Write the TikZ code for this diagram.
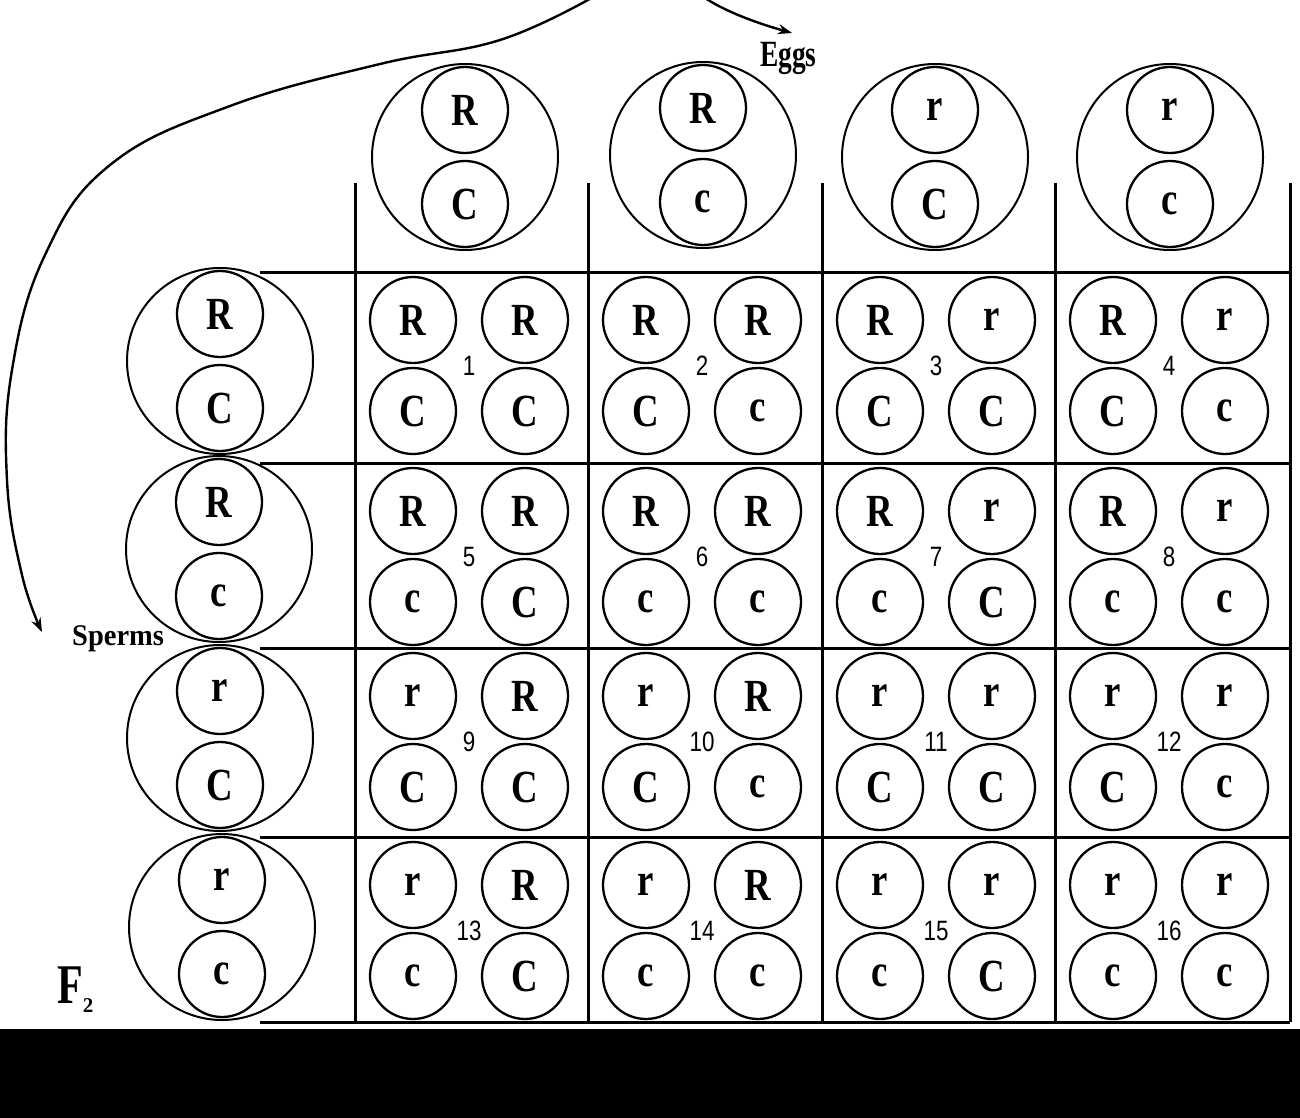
\documentclass[tikz,border=0pt]{standalone}
\usepackage{fontspec}
\setmainfont{Liberation Serif}
\setsansfont{Liberation Sans}
\usetikzlibrary{calc,arrows.meta}
\tikzstyle{gamete}=[circle,draw,line width=2pt,minimum size=186pt,inner sep=0pt]
\tikzstyle{gene}=[circle,draw,line width=2.3pt,minimum size=86pt,inner sep=0pt,font=\fontsize{46}{50}\selectfont\bfseries]
\tikzstyle{gridline}=[line width=3pt]
\tikzstyle{pathway}=[line width=2.4pt,-{Stealth[length=14pt,width=10pt]}]
\tikzstyle{cellnumber}=[inner sep=0pt,font=\fontsize{28}{28}\selectfont\sffamily]
\tikzstyle{heading}=[inner sep=0pt,anchor=base west,font=\fontsize{37}{37}\selectfont\bfseries]
\newcommand{\allele}[1]{\scalebox{0.8}[1]{#1}}
\newcommand{\drawgamete}[4]{% Syntax: {name}{centre}{upper allele}{lower allele}
\node[gamete] (#1) at (#2) {};
\node[gene] (#1u) at ($(#2)+(0,-47)$) {\allele{#3}};
\node[gene] (#1l) at ($(#2)+(0,47)$) {\allele{#4}};
}

\begin{document}
\begin{tikzpicture}[x=1pt,y=-1pt]
	\useasboundingbox (0,0) rectangle (1300,1118);
	\fill[white] (0,0) rectangle (1300,1029);
	\fill[black] (0,1029) rectangle (1300,1118);
	% the table
	\foreach \x in {355,588,822,1055,1290} \draw[gridline] (\x,183) -- (\x,1022);
	\foreach \y in {272,463,648,837,1022} \draw[gridline] (260,\y) -- (1290,\y);
	% eggs along the top, sperms down the side
	\foreach \i/\x/\y/\u/\l in {1/465/157/R/C,2/703/155/R/c,3/935/157/r/C,4/1170/157/r/c} {
		\drawgamete{egg\i}{\x,\y}{\u}{\l}
	}
	\foreach \i/\x/\y/\u/\l in {1/220/361/R/C,2/219/549/R/c,3/220/738/r/C,4/222/927/r/c} {
		\drawgamete{sperm\i}{\x,\y}{\u}{\l}
	}
	% the sixteen zygotes
	\foreach \row/\rt/\sa/\sb in {1/272/R/C,2/463/R/c,3/648/r/C,4/837/r/c} {
		\foreach \col/\cx/\ea/\eb in {1/355/R/C,2/588/R/c,3/822/r/C,4/1055/r/c} {
			\pgfmathtruncatemacro{\num}{4*(\row-1)+\col}
			\node[gene] (c\num-su) at (\cx+58,\rt+48) {\allele{\sa}};
			\node[gene] (c\num-sl) at (\cx+58,\rt+139) {\allele{\sb}};
			\node[gene] (c\num-eu) at (\cx+170,\rt+48) {\allele{\ea}};
			\node[gene] (c\num-el) at (\cx+170,\rt+139) {\allele{\eb}};
			\node[cellnumber] (n\num) at (\cx+114,\rt+94) {\scalebox{0.8}[1]{\num}};
		}
	}
	% labels and arrows
	\node[heading] (eggs) at (760,67) {\scalebox{0.74}[1]{Eggs}};
	\node[heading,font=\fontsize{30}{30}\selectfont\bfseries] (sperms) at (72,645) {\scalebox{0.95}[1]{Sperms}};
	\node[heading] (ftwo) at (57,1003) {\fontsize{56}{56}\selectfont\bfseries\scalebox{0.75}[1]{F}\fontsize{21}{21}\selectfont\raisebox{-9pt}{2}};
	\coordinate (forkL) at (595,-4);
	\coordinate (forkR) at (702,-4);
	\coordinate (spermtip) at (42,632);
	\coordinate (eggtip) at (792,33);
	\draw[pathway] plot[smooth,tension=0.7] coordinates {(forkL) (500,40) (380,64) (230,106) (110,165) (45,255) (12,370) (7,480) (22,575) (spermtip)};
	\draw[pathway] (forkR) .. controls (725,12) and (760,24) .. (eggtip);
\end{tikzpicture}
\end{document}
